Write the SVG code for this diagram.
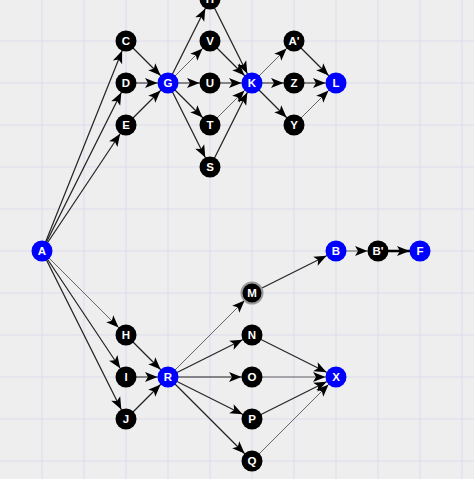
<svg xmlns="http://www.w3.org/2000/svg" width="474" height="479" viewBox="0 0 474 479">
<defs>
<marker id="ah" viewBox="-25 -6 27 12" markerWidth="27" markerHeight="12" refX="0" refY="0" orient="auto" markerUnits="userSpaceOnUse">
<path d="M-23,-5 L-10.5,0 L-23,5 L-20,0 z" fill="#000"/>
</marker>
<style>
.grid line{stroke:#dddcef;stroke-width:1}
.e{stroke:#222;stroke-width:1.2;fill:none;marker-end:url(#ah)}
.t{stroke:#555;stroke-width:0.9}
.thick{stroke:#000;stroke-width:2.6}
.blue circle{fill:#0000ff}
.blk circle{fill:#000}
circle{r:10.5px}
text{font-family:"Liberation Sans",Arial,sans-serif;font-size:11.5px;font-weight:bold;fill:#fff;text-anchor:middle}
</style>
</defs>
<rect width="474" height="479" fill="#eeeeee"/>
<g class="grid">
<line x1="42" y1="0" x2="42" y2="479"/><line x1="84" y1="0" x2="84" y2="479"/><line x1="126" y1="0" x2="126" y2="479"/><line x1="168" y1="0" x2="168" y2="479"/><line x1="210" y1="0" x2="210" y2="479"/><line x1="252" y1="0" x2="252" y2="479"/><line x1="294" y1="0" x2="294" y2="479"/><line x1="336" y1="0" x2="336" y2="479"/><line x1="378" y1="0" x2="378" y2="479"/><line x1="420" y1="0" x2="420" y2="479"/><line x1="462" y1="0" x2="462" y2="479"/>
<line x1="0" y1="41" x2="474" y2="41"/><line x1="0" y1="83" x2="474" y2="83"/><line x1="0" y1="125" x2="474" y2="125"/><line x1="0" y1="167" x2="474" y2="167"/><line x1="0" y1="209" x2="474" y2="209"/><line x1="0" y1="251" x2="474" y2="251"/><line x1="0" y1="293" x2="474" y2="293"/><line x1="0" y1="335" x2="474" y2="335"/><line x1="0" y1="377" x2="474" y2="377"/><line x1="0" y1="419" x2="474" y2="419"/><line x1="0" y1="461" x2="474" y2="461"/>
</g>
<g id="connectors">
<line class="e" x1="42" y1="251" x2="126" y2="41"/>
<line class="e" x1="42" y1="251" x2="126" y2="83"/>
<line class="e" x1="42" y1="251" x2="126" y2="125"/>
<line class="e t" x1="42" y1="251" x2="126" y2="335"/>
<line class="e" x1="42" y1="251" x2="126" y2="377"/>
<line class="e" x1="42" y1="251" x2="126" y2="419"/>
<line class="e" x1="126" y1="41" x2="168" y2="83"/>
<line class="e" x1="126" y1="83" x2="168" y2="83"/>
<line class="e" x1="126" y1="125" x2="168" y2="83"/>
<line class="e" x1="168" y1="83" x2="210" y2="-1"/>
<line class="e t" x1="168" y1="83" x2="210" y2="41"/>
<line class="e" x1="168" y1="83" x2="210" y2="83"/>
<line class="e" x1="168" y1="83" x2="210" y2="125"/>
<line class="e" x1="168" y1="83" x2="210" y2="167"/>
<line class="e" x1="210" y1="-1" x2="252" y2="83"/>
<line class="e" x1="210" y1="41" x2="252" y2="83"/>
<line class="e" x1="210" y1="83" x2="252" y2="83"/>
<line class="e t" x1="210" y1="125" x2="252" y2="83"/>
<line class="e" x1="210" y1="167" x2="252" y2="83"/>
<line class="e t" x1="252" y1="83" x2="294" y2="41"/>
<line class="e" x1="252" y1="83" x2="294" y2="83"/>
<line class="e" x1="252" y1="83" x2="294" y2="125"/>
<line class="e" x1="294" y1="41" x2="336" y2="83"/>
<line class="e" x1="294" y1="83" x2="336" y2="83"/>
<line class="e t" x1="294" y1="125" x2="336" y2="83"/>
<line class="e" x1="126" y1="335" x2="168" y2="377"/>
<line class="e" x1="126" y1="377" x2="168" y2="377"/>
<line class="e" x1="126" y1="419" x2="168" y2="377"/>
<line class="e t" x1="168" y1="377" x2="252" y2="293"/>
<line class="e" x1="168" y1="377" x2="252" y2="335"/>
<line class="e" x1="168" y1="377" x2="252" y2="377"/>
<line class="e" x1="168" y1="377" x2="252" y2="419"/>
<line class="e" x1="168" y1="377" x2="252" y2="461"/>
<line class="e" x1="252" y1="335" x2="336" y2="377"/>
<line class="e t" x1="252" y1="377" x2="336" y2="377"/>
<line class="e" x1="252" y1="419" x2="336" y2="377"/>
<line class="e t" x1="252" y1="461" x2="336" y2="377"/>
<line class="e" x1="252" y1="293" x2="336" y2="251"/>
<line class="e t" x1="336" y1="251" x2="378" y2="251"/>
<line class="e thick" x1="378" y1="251" x2="420" y2="251"/>
</g>
<g id="nA" class="blue"><circle cx="42" cy="251" r="10.5"/><text x="42" y="255">A</text></g>
<g id="nC" class="blk"><circle cx="126" cy="41" r="10.5"/><text x="126" y="45">C</text></g>
<g id="nD" class="blk"><circle cx="126" cy="83" r="10.5"/><text x="126" y="87">D</text></g>
<g id="nE" class="blk"><circle cx="126" cy="125" r="10.5"/><text x="126" y="129">E</text></g>
<g id="nG" class="blue"><circle cx="168" cy="83" r="10.5"/><text x="168" y="87">G</text></g>
<g id="nTop" class="blk"><circle cx="210" cy="-1" r="10.5"/><text x="210" y="3">H</text></g>
<g id="nV" class="blk"><circle cx="210" cy="41" r="10.5"/><text x="210" y="45">V</text></g>
<g id="nU" class="blk"><circle cx="210" cy="83" r="10.5"/><text x="210" y="87">U</text></g>
<g id="nT" class="blk"><circle cx="210" cy="125" r="10.5"/><text x="210" y="129">T</text></g>
<g id="nS" class="blk"><circle cx="210" cy="167" r="10.5"/><text x="210" y="171">S</text></g>
<g id="nK" class="blue"><circle cx="252" cy="83" r="10.5"/><text x="252" y="87">K</text></g>
<g id="nA2" class="blk"><circle cx="294" cy="41" r="10.5"/><text x="294" y="45">A'</text></g>
<g id="nZ" class="blk"><circle cx="294" cy="83" r="10.5"/><text x="294" y="87">Z</text></g>
<g id="nY" class="blk"><circle cx="294" cy="125" r="10.5"/><text x="294" y="129">Y</text></g>
<g id="nL" class="blue"><circle cx="336" cy="83" r="10.5"/><text x="336" y="87">L</text></g>
<g id="nB" class="blue"><circle cx="336" cy="251" r="10.5"/><text x="336" y="255">B</text></g>
<g id="nB2" class="blk"><circle cx="378" cy="251" r="10.5"/><text x="378" y="255">B'</text></g>
<g id="nF" class="blue"><circle cx="420" cy="251" r="10.5"/><text x="420" y="255">F</text></g>
<g id="nM" class="blk"><circle cx="252" cy="293" r="10.5" stroke="#999" stroke-width="2"/><text x="252" y="297">M</text></g>
<g id="nH" class="blk"><circle cx="126" cy="335" r="10.5"/><text x="126" y="339">H</text></g>
<g id="nI" class="blk"><circle cx="126" cy="377" r="10.5"/><text x="126" y="381">I</text></g>
<g id="nJ" class="blk"><circle cx="126" cy="419" r="10.5"/><text x="126" y="423">J</text></g>
<g id="nR" class="blue"><circle cx="168" cy="377" r="10.5"/><text x="168" y="381">R</text></g>
<g id="nN" class="blk"><circle cx="252" cy="335" r="10.5"/><text x="252" y="339">N</text></g>
<g id="nO" class="blk"><circle cx="252" cy="377" r="10.5"/><text x="252" y="381">O</text></g>
<g id="nP" class="blk"><circle cx="252" cy="419" r="10.5"/><text x="252" y="423">P</text></g>
<g id="nQ" class="blk"><circle cx="252" cy="461" r="10.5"/><text x="252" y="465">Q</text></g>
<g id="nX" class="blue"><circle cx="336" cy="377" r="10.5"/><text x="336" y="381">X</text></g>
</svg>
